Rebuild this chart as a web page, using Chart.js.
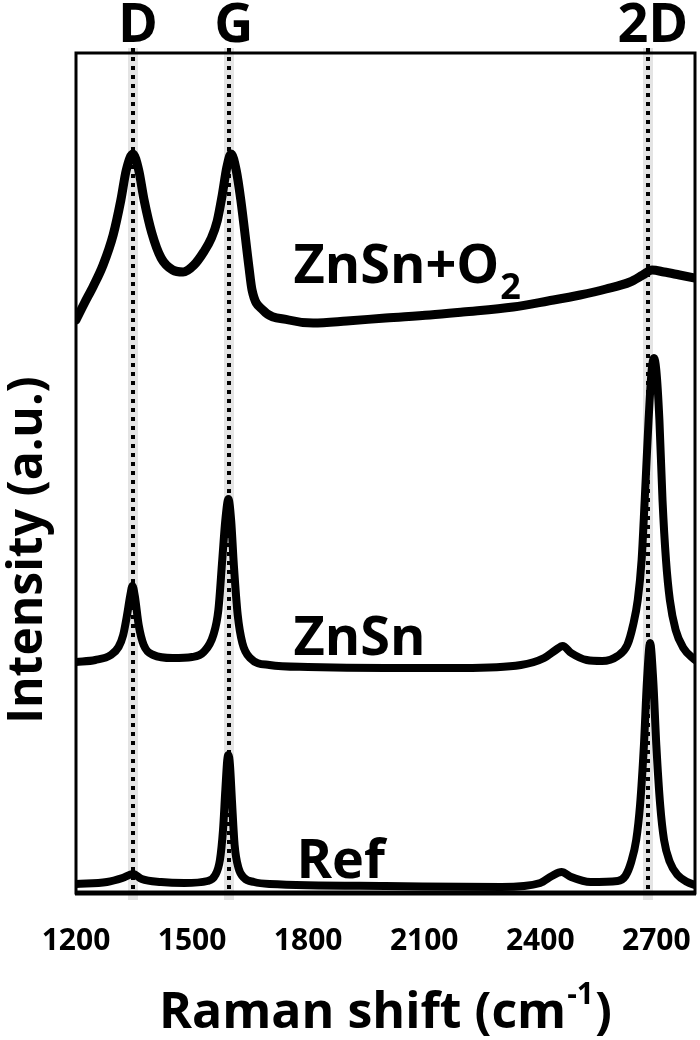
<!DOCTYPE html>
<html>
<head>
<meta charset="utf-8">
<script src="https://cdn.jsdelivr.net/npm/chart.js@4.4.1/dist/chart.umd.min.js"></script>
<style>
  html, body { margin: 0; padding: 0; background: #fff; }
</style>
</head>
<body>
<canvas id="raman" width="700" height="1040"></canvas>
<script>
// Raman spectra (intensity in arbitrary units)
const refShift = [1200, 1280, 1320, 1347, 1370, 1420, 1480, 1540, 1560, 1572, 1580, 1586, 1591, 1594, 1598, 1603, 1610, 1620, 1635, 1660, 1700, 2000, 2300, 2400, 2430, 2455, 2480, 2530, 2600, 2620, 2635, 2648, 2658, 2668, 2676, 2684, 2692, 2700, 2710, 2720, 2735, 2755, 2780, 2800];
const refIntensity = [9, 11, 15, 19, 14, 11, 10, 12, 18, 33, 63, 103, 133, 138, 128, 93, 48, 25, 15, 11, 9, 7, 6, 10, 17, 21, 16, 11, 12, 17, 31, 53, 88, 148, 213, 250, 213, 148, 88, 53, 31, 18, 11, 8];

const znsnShift = [1200, 1250, 1290, 1310, 1322, 1332, 1340, 1346, 1352, 1362, 1375, 1400, 1450, 1500, 1530, 1555, 1568, 1578, 1586, 1594, 1601, 1608, 1618, 1630, 1650, 1700, 1800, 2000, 2200, 2350, 2410, 2440, 2458, 2480, 2520, 2560, 2600, 2625, 2640, 2652, 2662, 2670, 2680, 2688, 2694, 2700, 2708, 2716, 2725, 2735, 2750, 2770, 2800];
const znsnIntensity = [231, 233, 238, 246, 258, 278, 297, 307, 297, 268, 248, 238, 235, 236, 241, 258, 283, 333, 373, 394, 373, 328, 278, 250, 235, 228, 226, 225, 225, 228, 235, 243, 247, 240, 233, 232, 237, 248, 268, 293, 333, 393, 473, 523, 535, 523, 473, 393, 333, 293, 263, 245, 233];

const oxShift = [1200, 1222, 1245, 1270, 1296, 1316, 1330, 1347, 1362, 1376, 1396, 1420, 1450, 1477, 1505, 1530, 1550, 1565, 1578, 1590, 1601, 1614, 1626, 1647, 1655, 1683, 1750, 1813, 1900, 2000, 2115, 2200, 2330, 2420, 2503, 2570, 2632, 2665, 2689, 2720, 2760, 2800];
const oxIntensity = [573, 590, 607, 628, 658, 693, 723, 739, 723, 693, 660, 635, 623, 621, 628, 641, 655, 672, 698, 726, 739, 723, 693, 626, 603, 583, 573, 570, 572, 575, 578, 581, 586, 592, 598, 604, 611, 618, 623, 621, 618, 615];

const peakNames = ['D', 'G', '2D'];
const peakShift = [1347, 1595, 2678];

const xTickStart = 1200;
const xTickStep = 300;

const toPoints = (xs, ys) => xs.map((v, i) => ({ x: v, y: ys[i] }));

const FONT = '"Open Sans", "Liberation Sans", sans-serif';

const decor = {
  id: 'decor',
  beforeDatasetsDraw(chart) {
    const { ctx, chartArea: a, scales: { x } } = chart;
    ctx.save();
    peakShift.forEach((p) => {
      const px = Math.round(x.getPixelForValue(p));
      ctx.setLineDash([]);
      ctx.strokeStyle = '#e4e4e4';
      ctx.lineWidth = 10;
      ctx.beginPath();
      ctx.moveTo(px, 48);
      ctx.lineTo(px, a.bottom + 7);
      ctx.stroke();
      ctx.setLineDash([4, 5]);
      ctx.strokeStyle = '#000';
      ctx.lineWidth = 4;
      ctx.beginPath();
      ctx.moveTo(px, 48);
      ctx.lineTo(px, a.bottom);
      ctx.stroke();
    });
    ctx.restore();
  },
  afterDraw(chart) {
    const { ctx, chartArea: a, scales: { x, y } } = chart;
    ctx.save();

    // frame
    ctx.strokeStyle = '#000';
    ctx.lineWidth = 3;
    ctx.strokeRect(a.left, a.top, a.right - a.left, a.bottom - a.top);
    ctx.lineWidth = 5;
    ctx.beginPath();
    ctx.moveTo(a.left - 1, a.bottom);
    ctx.lineTo(a.right + 1, a.bottom);
    ctx.stroke();

    ctx.fillStyle = '#000';

    // peak names above the frame
    ctx.font = '700 54px ' + FONT;
    ctx.textAlign = 'center';
    ctx.textBaseline = 'alphabetic';
    peakNames.forEach((n, i) => {
      ctx.fillText(n, x.getPixelForValue(peakShift[i]) + 5, 42);
    });

    // sample labels
    ctx.textAlign = 'left';
    const lx = x.getPixelForValue(1762);
    ctx.fillText('ZnSn+O', lx, y.getPixelForValue(610));
    const w = ctx.measureText('ZnSn+O').width;
    ctx.font = '700 36px ' + FONT;
    ctx.fillText('2', lx + w + 1, y.getPixelForValue(594));
    ctx.font = '700 54px ' + FONT;
    ctx.fillText('ZnSn', lx, y.getPixelForValue(238));
    ctx.fillText('Ref', lx + 3, y.getPixelForValue(15));

    // x title with superscript
    const big = '700 50px ' + FONT;
    const small = '700 30px ' + FONT;
    ctx.font = big;
    const t1 = 'Raman shift (cm';
    const w1 = ctx.measureText(t1).width;
    const w3 = ctx.measureText(')').width;
    ctx.font = small;
    const w2 = ctx.measureText('-1').width;
    const total = w1 + w2 + w3 + 2;
    const sx = (a.left + a.right) / 2 - total / 2;
    const base = 1028;
    ctx.font = big;
    ctx.fillText(t1, sx, base);
    ctx.font = small;
    ctx.fillText('-1', sx + w1 + 1, base - 24);
    ctx.font = big;
    ctx.fillText(')', sx + w1 + w2 + 2, base);

    // y title
    ctx.translate(28, 550);
    ctx.rotate(-Math.PI / 2);
    ctx.textAlign = 'center';
    ctx.textBaseline = 'middle';
    ctx.font = '700 48px ' + FONT;
    ctx.fillText('Intensity (a.u.)', 0, 0);
    ctx.restore();
  }
};

const lineStyle = {
  borderColor: '#000',
  borderWidth: 8,
  pointRadius: 0,
  fill: false,
  cubicInterpolationMode: 'monotone',
  borderCapStyle: 'round',
  borderJoinStyle: 'round'
};

new Chart(document.getElementById('raman'), {
  type: 'line',
  data: {
    datasets: [
      Object.assign({ label: 'ZnSn+O2', data: toPoints(oxShift, oxIntensity) }, lineStyle, { borderWidth: 9 }),
      Object.assign({ label: 'ZnSn', data: toPoints(znsnShift, znsnIntensity) }, lineStyle),
      Object.assign({ label: 'Ref', data: toPoints(refShift, refIntensity) }, lineStyle)
    ]
  },
  options: {
    responsive: false,
    animation: false,
    devicePixelRatio: 1,
    layout: { padding: { top: 53, right: 5, left: 0, bottom: 0 } },
    plugins: { legend: { display: false }, tooltip: { enabled: false } },
    scales: {
      x: {
        type: 'linear',
        min: 1200,
        max: 2800,
        grid: { display: false, drawTicks: false },
        border: { display: false },
        ticks: {
          stepSize: xTickStep,
          includeBounds: false,
          autoSkip: false,
          maxRotation: 0,
          padding: 30,
          color: '#000',
          font: { family: FONT, size: 30, weight: 'bold' },
          callback: (v) => (v >= xTickStart ? String(v) : '')
        },
        afterFit: (s) => {
          s.height = 147;
          s.paddingLeft = 0;
          s.paddingRight = 0;
        }
      },
      y: {
        min: 0,
        max: 840,
        grid: { display: false, drawTicks: false },
        border: { display: false },
        ticks: { display: false },
        afterFit: (s) => {
          s.width = 76;
          s.paddingTop = 0;
          s.paddingBottom = 0;
        }
      }
    }
  },
  plugins: [decor]
});
</script>
</body>
</html>
